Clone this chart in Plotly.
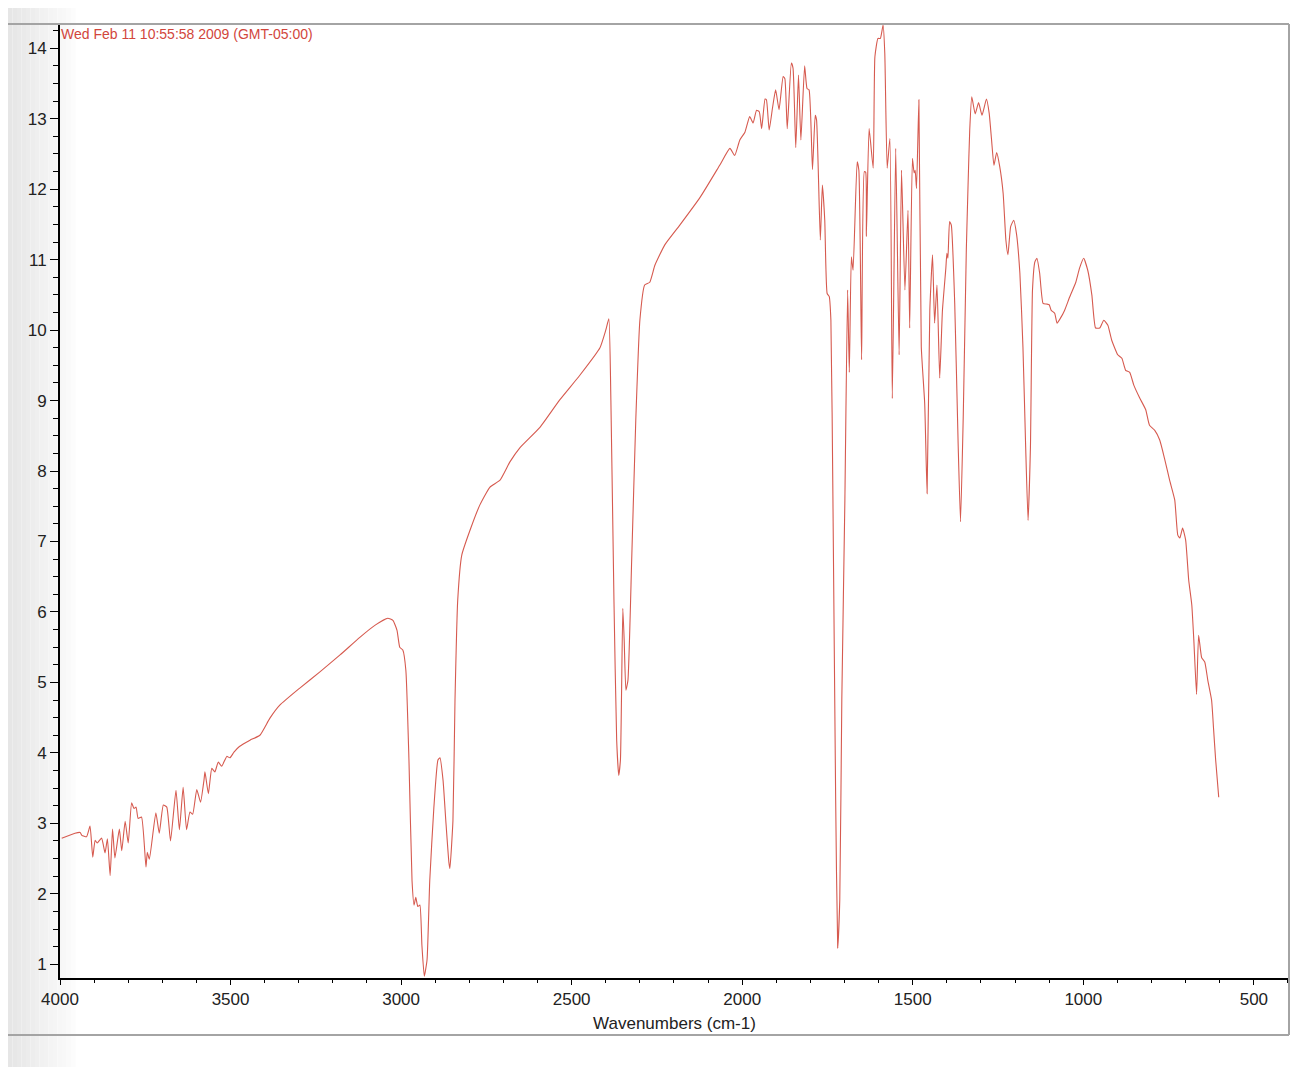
import plotly.graph_objects as go

# Wavenumber (cm-1) and signal values
wavenumbers = [
    3995, 3956, 3941, 3936, 3922, 3912, 3904, 3897, 3891, 3878, 3868, 3861, 3853, 3846, 3839,
    3826, 3819, 3809, 3800, 3790, 3783, 3777, 3771, 3761, 3748, 3744, 3738, 3719, 3709, 3697,
    3687, 3676, 3660, 3650, 3639, 3629, 3619, 3611, 3599, 3588, 3578, 3575, 3565, 3555, 3546,
    3536, 3526, 3511, 3502, 3490, 3474, 3443, 3414, 3385, 3355, 3297, 3238, 3179, 3121, 3077,
    3039, 3024, 3012, 3004, 2995, 2986, 2977, 2968, 2962, 2957, 2951, 2945, 2939, 2932, 2924,
    2916, 2904, 2892, 2886, 2877, 2869, 2860, 2857, 2848, 2842, 2834, 2822, 2798, 2769, 2740,
    2710, 2681, 2652, 2593, 2535, 2476, 2417, 2400, 2391, 2385, 2376, 2368, 2362, 2357, 2354,
    2350, 2346, 2341, 2335, 2324, 2312, 2300, 2286, 2271, 2256, 2227, 2183, 2124, 2066, 2036,
    2022, 2007, 1992, 1978, 1968, 1958, 1950, 1943, 1933, 1929, 1921, 1911, 1902, 1892, 1880,
    1875, 1868, 1856, 1851, 1843, 1835, 1828, 1817, 1810, 1804, 1794, 1786, 1782, 1771, 1765,
    1758, 1751, 1745, 1740, 1734, 1726, 1720, 1714, 1708, 1699, 1691, 1686, 1680, 1675, 1663,
    1658, 1650, 1642, 1638, 1636, 1628, 1616, 1611, 1602, 1595, 1587, 1582, 1575, 1567, 1560,
    1550, 1540, 1533, 1523, 1514, 1509, 1501, 1496, 1493, 1489, 1482, 1475, 1465, 1458, 1450,
    1442, 1436, 1429, 1421, 1413, 1403, 1400, 1397, 1392, 1387, 1377, 1367, 1360, 1352, 1343,
    1338, 1333, 1327, 1317, 1307, 1297, 1284, 1276, 1269, 1262, 1254, 1245, 1235, 1227, 1221,
    1213, 1204, 1196, 1186, 1177, 1169, 1162, 1155, 1149, 1142, 1136, 1128, 1118, 1108, 1100,
    1094, 1084, 1077, 1067, 1055, 1040, 1022, 1011, 999, 987, 975, 964, 952, 940, 928,
    917, 899, 887, 876, 864, 852, 835, 817, 806, 791, 776, 761, 747, 732, 723,
    717, 709, 700, 691, 682, 676, 668, 662, 653, 644, 635, 624, 618, 612, 603,
]
signal = [
    2.79, 2.86, 2.87, 2.83, 2.81, 2.96, 2.52, 2.76, 2.72, 2.79, 2.58, 2.78, 2.26, 2.92, 2.51,
    2.92, 2.61, 3.03, 2.72, 3.29, 3.21, 3.23, 3.07, 3.09, 2.38, 2.59, 2.49, 3.15, 2.86, 3.26,
    3.23, 2.75, 3.47, 2.91, 3.51, 2.91, 3.16, 3.13, 3.48, 3.30, 3.61, 3.73, 3.42, 3.78, 3.73,
    3.87, 3.81, 3.95, 3.93, 4.01, 4.09, 4.18, 4.25, 4.49, 4.68, 4.92, 5.15, 5.39, 5.64, 5.81,
    5.91, 5.88, 5.74, 5.50, 5.46, 5.17, 3.90, 2.19, 1.84, 1.95, 1.82, 1.84, 1.27, 0.83, 1.06,
    2.19, 3.22, 3.90, 3.93, 3.61, 3.04, 2.45, 2.36, 3.04, 4.75, 6.17, 6.81, 7.16, 7.52, 7.77,
    7.87, 8.13, 8.33, 8.62, 9.01, 9.36, 9.75, 10.00, 10.16, 9.01, 6.17, 4.18, 3.68, 3.90, 4.75,
    6.05, 5.60, 4.89, 5.03, 6.74, 8.72, 10.14, 10.64, 10.68, 10.92, 11.21, 11.49, 11.88, 12.34, 12.58,
    12.48, 12.70, 12.81, 13.03, 12.94, 13.12, 13.10, 12.86, 13.28, 13.27, 12.84, 13.16, 13.41, 13.13, 13.60,
    13.57, 12.86, 13.79, 13.72, 12.59, 13.62, 12.70, 13.75, 13.43, 13.41, 12.28, 13.05, 12.98, 11.28, 12.06,
    11.56, 10.52, 10.48, 10.14, 7.59, 3.33, 1.23, 1.91, 4.75, 7.59, 10.57, 9.40, 11.04, 10.85, 12.39,
    12.27, 9.58, 12.25, 12.24, 11.33, 12.86, 12.30, 13.88, 14.14, 14.14, 14.33, 13.93, 12.30, 12.72, 9.03,
    12.58, 9.65, 12.27, 10.57, 11.70, 10.03, 12.44, 12.23, 12.27, 12.01, 13.27, 9.76, 8.96, 7.68, 10.28,
    11.07, 10.10, 10.64, 9.32, 10.28, 10.88, 11.09, 11.02, 11.54, 11.49, 10.38, 8.39, 7.28, 8.78, 11.14,
    12.04, 12.84, 13.31, 13.07, 13.23, 13.05, 13.28, 13.08, 12.70, 12.34, 12.52, 12.32, 11.94, 11.28, 11.07,
    11.47, 11.56, 11.37, 10.81, 9.76, 8.34, 7.30, 8.34, 10.57, 10.97, 11.02, 10.81, 10.38, 10.37, 10.36,
    10.28, 10.24, 10.10, 10.17, 10.28, 10.47, 10.68, 10.88, 11.02, 10.85, 10.50, 10.03, 10.03, 10.14, 10.07,
    9.86, 9.65, 9.60, 9.43, 9.40, 9.22, 9.04, 8.87, 8.65, 8.58, 8.44, 8.16, 7.87, 7.59, 7.09,
    7.05, 7.19, 7.02, 6.45, 6.10, 5.60, 4.83, 5.67, 5.35, 5.29, 5.03, 4.75, 4.33, 3.90, 3.37,
]

timestamp_text = "Wed Feb 11 10:55:58 2009 (GMT-05:00)"
x_title = "Wavenumbers (cm-1)"
x_range = [4000, 397]
y_range = [0.805, 14.345]

LINE_RED = "#d65a4f"
TEXT_RED = "#d2463c"
FONT = "Liberation Sans, Arial, Helvetica, sans-serif"

# page body has an 8px margin: figure starts at (8, 8)
FIG_W, FIG_H = 1296, 1061
M_L, M_R, M_T, M_B = 52, 15, 16, 91
plot_w = FIG_W - M_L - M_R
plot_h = FIG_H - M_T - M_B

fig = go.Figure()
fig.add_trace(go.Scatter(
    x=wavenumbers, y=signal, mode="lines",
    line=dict(color=LINE_RED, width=1.1, shape="spline", smoothing=0.45),
    hoverinfo="x+y", showlegend=False,
))

# decorative background: left gradient strip and window frame
shapes = []
n_strips = 15
for i in range(n_strips):
    x0_px = i * 4.5          # figure px from left edge
    x1_px = (i + 1) * 4.5
    c = int(230 + (252 - 230) * i / (n_strips - 1))
    shapes.append(dict(
        type="rect", xref="paper", yref="paper",
        x0=(x0_px - M_L) / plot_w, x1=(x1_px - M_L) / plot_w,
        y0=-(M_B - 2) / plot_h, y1=1 + M_T / plot_h,
        line=dict(width=0), fillcolor=f"rgb({c},{c},{c})", layer="below",
    ))
frame_col = "#a4a4a4"
left_edge = -M_L / plot_w
bottom_frame = -57 / plot_h
shapes += [
    dict(type="line", xref="paper", yref="paper", x0=left_edge, x1=1.0, y0=1.0, y1=1.0,
         line=dict(color=frame_col, width=2)),
    dict(type="line", xref="paper", yref="paper", x0=left_edge, x1=1.0, y0=bottom_frame, y1=bottom_frame,
         line=dict(color=frame_col, width=2)),
    dict(type="line", xref="paper", yref="paper", x0=1.0, x1=1.0, y0=bottom_frame, y1=1.0,
         line=dict(color=frame_col, width=2)),
]

fig.update_layout(
    width=FIG_W, height=FIG_H,
    margin=dict(l=M_L, r=M_R, t=M_T, b=M_B),
    paper_bgcolor="white", plot_bgcolor="rgba(0,0,0,0)",
    font=dict(family=FONT, size=17, color="#222222"),
    shapes=shapes,
    annotations=[dict(
        text=timestamp_text, xref="paper", yref="paper", x=0.0, y=1.0,
        xanchor="left", yanchor="top", showarrow=False, yshift=0, xshift=-1,
        font=dict(family=FONT, size=14, color=TEXT_RED),
    )],
    xaxis=dict(
        range=x_range, showgrid=False, zeroline=False,
        showline=True, linecolor="black", linewidth=2,
        ticks="outside", ticklen=5, tickwidth=1, tickcolor="black",
        tickmode="linear", tick0=500, dtick=500,
        minor=dict(ticks="outside", ticklen=3, tickwidth=1, tickcolor="black", dtick=100, tick0=0, showgrid=False),
        tickfont=dict(size=17, color="#222222"),
        title=dict(text=x_title, font=dict(size=17, color="#222222"), standoff=9),
    ),
    yaxis=dict(
        range=y_range, showgrid=False, zeroline=False,
        showline=True, linecolor="black", linewidth=2,
        ticks="outside", ticklen=8, tickwidth=1, tickcolor="black",
        tickmode="linear", tick0=0, dtick=1,
        minor=dict(ticks="outside", ticklen=5, tickwidth=1, tickcolor="black", dtick=0.25, tick0=0, showgrid=False),
        tickfont=dict(size=17, color="#222222"),
    ),
)

fig.write_html("out.html")
